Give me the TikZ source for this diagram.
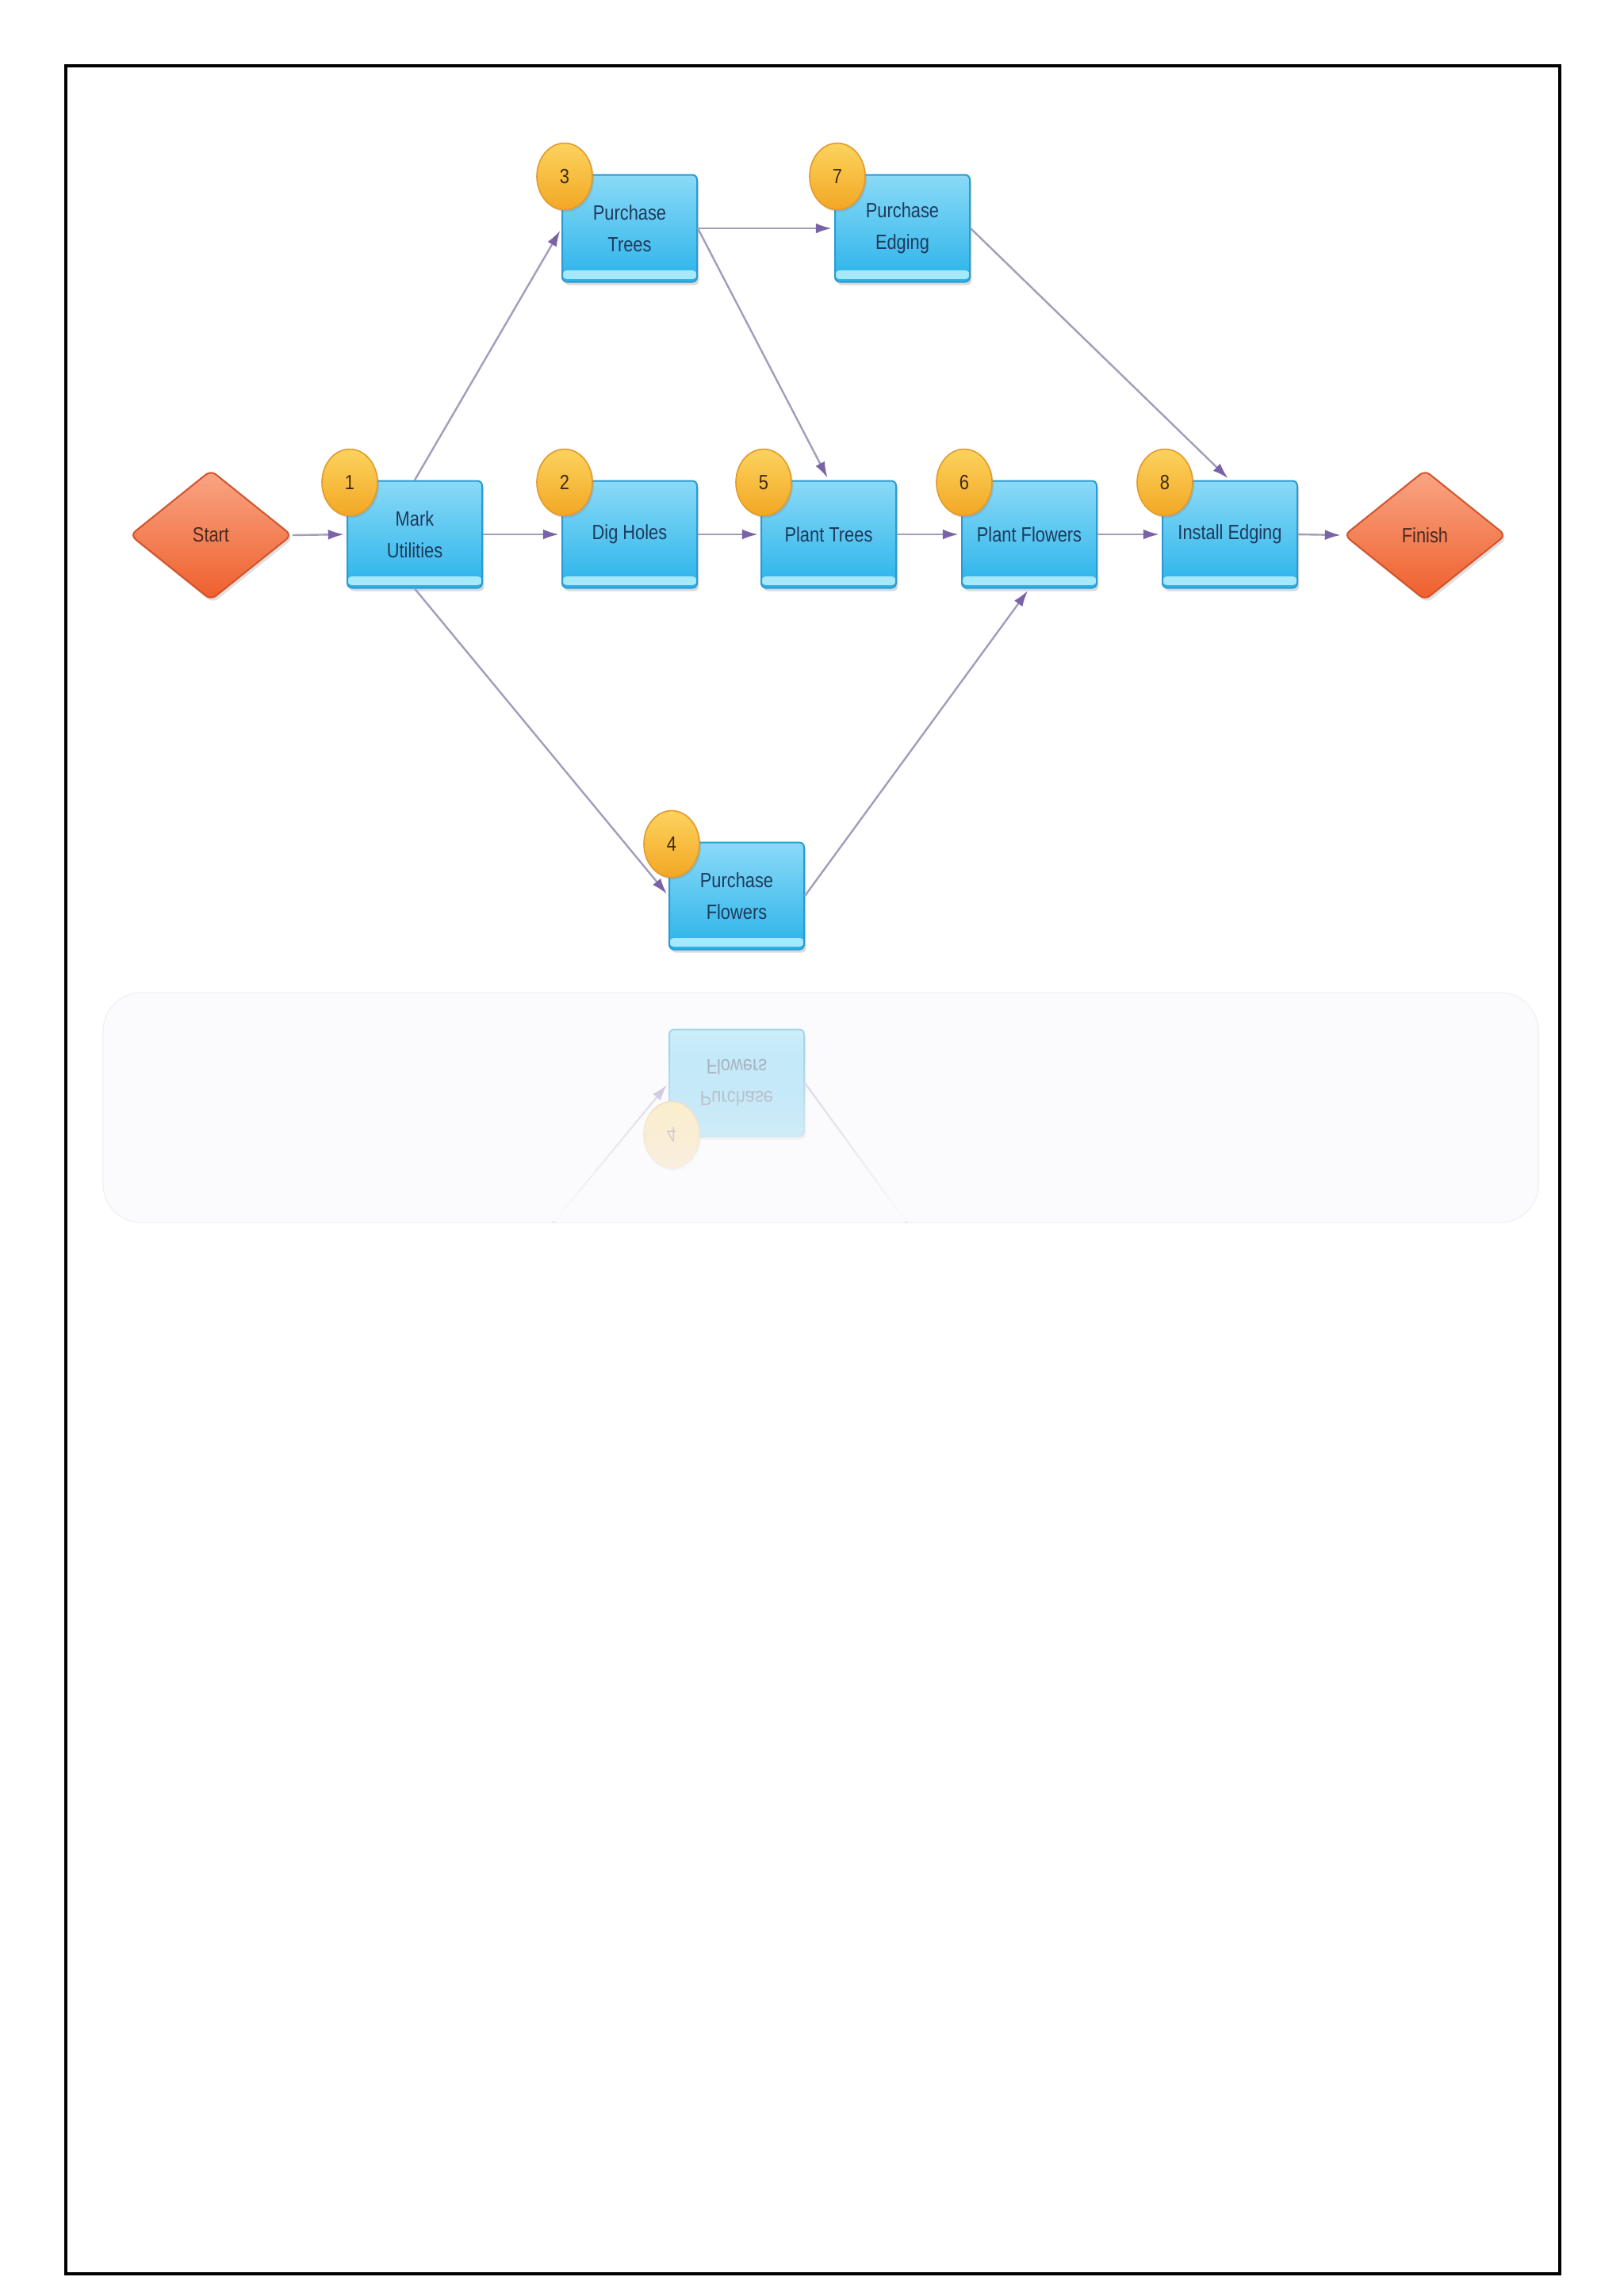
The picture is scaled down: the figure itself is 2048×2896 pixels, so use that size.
\documentclass[tikz,border=0pt]{standalone}
\usepackage{fontspec}
\newfontfamily\narrow[FakeStretch=0.84]{Liberation Sans}
\usetikzlibrary{shapes.geometric,arrows.meta,shadows,fadings}
\definecolor{boxtop}{HTML}{8ADAF7}
\definecolor{boxbot}{HTML}{2AB3EA}
\definecolor{boxedge}{HTML}{2A9BD2}
\definecolor{boxband}{HTML}{A6E9FC}
\definecolor{boxtext}{HTML}{1E3A5C}
\definecolor{termtop}{HTML}{F9A585}
\definecolor{termbot}{HTML}{EF5F2C}
\definecolor{termedge}{HTML}{D2532B}
\definecolor{termtext}{HTML}{4A2A20}
\definecolor{badgetop}{HTML}{FCD35E}
\definecolor{badgebot}{HTML}{F3A724}
\definecolor{badgeedge}{HTML}{E39A2A}
\definecolor{badgetext}{HTML}{3E2A10}
\definecolor{linec}{HTML}{A39DBB}
\definecolor{tipc}{HTML}{7A62A8}
\definecolor{refbg}{HTML}{FBFBFD}
\definecolor{refedge}{HTML}{F1F1F5}
\tikzset{
  task/.style={rectangle, rounded corners=1.5pt, draw=boxedge, line width=0.5pt,
    top color=boxtop, bottom color=boxbot, minimum width=42.5pt, minimum height=33.75pt,
    inner sep=1pt, align=center, font=\narrow\fontsize{6.5}{10}\selectfont, text=boxtext,
    drop shadow={shadow xshift=0.6pt, shadow yshift=-1pt, opacity=0.3},
    path picture={\fill[boxband] ([yshift=0.9pt]path picture bounding box.south west)
      rectangle ([yshift=3.6pt]path picture bounding box.south east);}},
  terminal/.style={diamond, aspect=1.25, inner sep=0pt, minimum width=51pt, minimum height=41pt,
    rounded corners=2pt, draw=termedge, line width=0.5pt, top color=termtop, bottom color=termbot,
    font=\narrow\fontsize{6.5}{10}\selectfont, text=termtext,
    drop shadow={shadow xshift=0.6pt, shadow yshift=-1pt, opacity=0.25}},
  badge/.style={ellipse, minimum width=17.5pt, minimum height=21pt, inner sep=0pt,
    draw=badgeedge, line width=0.4pt, top color=badgetop, bottom color=badgebot,
    font=\narrow\fontsize{6.5}{8}\selectfont, text=badgetext,
    drop shadow={shadow xshift=0.5pt, shadow yshift=-0.7pt, opacity=0.25}},
  flow/.style={draw=linec, line width=0.6pt, -{Latex[length=5pt,width=3.2pt,color=tipc]}, shorten >=0.8pt},
  frame/.style={draw=black, line width=1pt},
  refarea/.style={fill=refbg, draw=refedge, line width=0.3pt, rounded corners=12pt}
}
\begin{document}
\begin{tikzpicture}[x=0.25pt,y=-0.25pt]
\useasboundingbox (0,0) rectangle (2048,2896);
\fill[white] (0,0) rectangle (2048,2896);
\draw[frame] (83,83) rectangle (1967,2868);

% faint reflection area
\path[refarea] (130,1252) rectangle (1940,1542);
\begin{scope}
  \clip (131,1253) rectangle (1939,1541);
  \begin{scope}[transparency group, opacity=0.4]
  \begin{scope}[yshift=-624pt, yscale=-1, transform shape]
    \coordinate (mur) at (523,742);
    \coordinate (pfr) at (1298,742);
    \node[task] (pflr) at (929,1130) {Purchase\\Flowers};
    \draw[flow] (mur) -- (pflr.west);
    \draw[flow] (pflr.east) -- (pfr);
    \node[badge] (b4r) at ([xshift=1pt,yshift=-0.75pt]pflr.north west) {4};
  \end{scope}
  \end{scope}
  \fill[refbg, path fading=north] (650,1330) rectangle (1300,1541);
\end{scope}

% nodes
\node[terminal] (start) at (266,675) {Start};
\node[task] (mu) at (523,674) {Mark\\Utilities};
\node[task] (dh) at (794,674) {Dig Holes};
\node[task] (pt) at (1045,674) {Plant Trees};
\node[task] (pf) at (1298,674) {Plant Flowers};
\node[task] (ie) at (1551,674) {Install Edging};
\node[terminal] (finish) at (1797,675) {Finish};
\node[task] (ptr) at (794,288) {Purchase\\Trees};
\node[task] (pe) at (1138,288) {Purchase\\Edging};
\node[task] (pfl) at (929,1130) {Purchase\\Flowers};

% connectors
\draw[flow] (start.east) -- (mu.west);
\draw[flow] (mu.east) -- (dh.west);
\draw[flow] (dh.east) -- (pt.west);
\draw[flow] (pt.east) -- (pf.west);
\draw[flow] (pf.east) -- (ie.west);
\draw[flow] (ie.east) -- (finish.west);
\draw[flow] (mu.north) -- (ptr.west);
\draw[flow] (mu.south) -- (pfl.west);
\draw[flow] (ptr.east) -- (pe.west);
\draw[flow] (ptr.east) -- (pt.north);
\draw[flow] (pe.east) -- (ie.north);
\draw[flow] (pfl.east) -- (pf.south);

% badges
\node[badge] (b1) at ([xshift=1pt,yshift=-0.75pt]mu.north west) {1};
\node[badge] (b2) at ([xshift=1pt,yshift=-0.75pt]dh.north west) {2};
\node[badge] (b3) at ([xshift=1pt,yshift=-0.75pt]ptr.north west) {3};
\node[badge] (b4) at ([xshift=1pt,yshift=-0.75pt]pfl.north west) {4};
\node[badge] (b5) at ([xshift=1pt,yshift=-0.75pt]pt.north west) {5};
\node[badge] (b6) at ([xshift=1pt,yshift=-0.75pt]pf.north west) {6};
\node[badge] (b7) at ([xshift=1pt,yshift=-0.75pt]pe.north west) {7};
\node[badge] (b8) at ([xshift=1pt,yshift=-0.75pt]ie.north west) {8};
\end{tikzpicture}
\end{document}
